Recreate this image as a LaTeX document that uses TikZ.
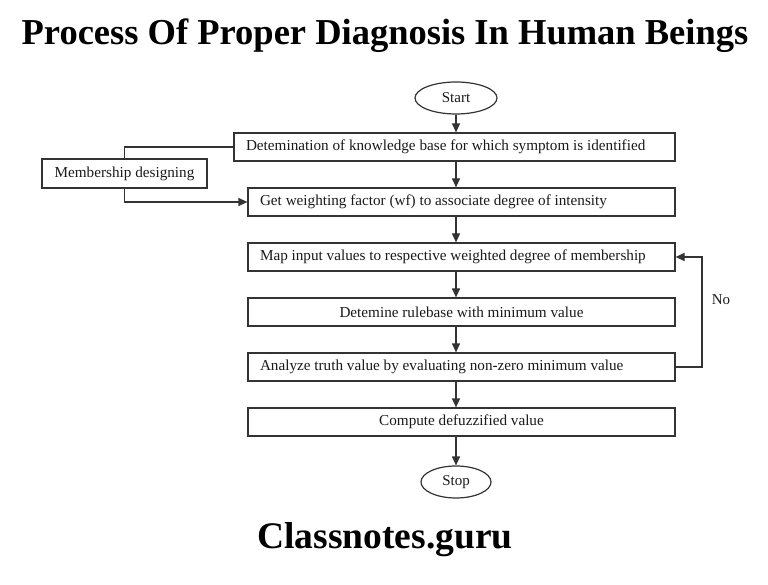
\documentclass[tikz,border=0pt]{standalone}
\usepackage{fontspec}
\setmainfont{Liberation Serif}
\usetikzlibrary{arrows.meta,positioning,shapes.geometric}
\definecolor{InkDark}{HTML}{1A1A1A}
\definecolor{LineGray}{HTML}{333333}
\tikzset{
  procbox/.style={rectangle, draw=LineGray, line width=1.2pt, fill=white,
             minimum height=28pt, inner sep=2pt, text=InkDark,
             font=\fontsize{15.2}{17}\selectfont},
  leftbox/.style={procbox, inner xsep=12pt, text width=#1, align=flush left},
  termnode/.style={ellipse, draw=LineGray, line width=1.2pt, fill=white,
             inner sep=0pt, text=InkDark, font=\fontsize{15}{17}\selectfont},
  flow/.style={-{Triangle[length=9pt,width=8pt]}, line width=1.2pt, draw=LineGray},
  link/.style={line width=1.2pt, draw=LineGray},
  bigtitle/.style={font=\fontsize{36.5}{42}\selectfont\bfseries, text=black},
}
\begin{document}
\begin{tikzpicture}[x=1pt, y=-1pt]
\useasboundingbox (0,0) rectangle (768,585);
% ===================== titles
\node[bigtitle] (title) at (385,36) {Process Of Proper Diagnosis In Human Beings};
\node[bigtitle, font=\fontsize{37.5}{42}\selectfont\bfseries] (footer) at (385,540) {Classnotes.guru};
% ===================== main column
\node[termnode, minimum width=82pt, minimum height=32pt] (start) at (456,98) {Start};
\node[leftbox=417pt] (detkb) at (454.5,147) {Detemination of knowledge base for which symptom is identified};
\node[leftbox=403pt] (getwf) at (461.5,202) {Get weighting factor (wf) to associate degree of intensity};
\node[leftbox=403pt] (mapin) at (461.5,257) {Map input values to respective weighted degree of membership};
\node[procbox, minimum width=427pt] (rulebase) at (461.5,312) {Detemine rulebase with minimum value};
\node[leftbox=403pt] (truth) at (461.5,367) {Analyze truth value by evaluating non-zero minimum value};
\node[procbox, minimum width=427pt] (defuzz) at (461.5,422) {Compute defuzzified value};
\node[termnode, minimum width=70pt, minimum height=32pt] (stop) at (456,482) {Stop};
% side box
\node[procbox, minimum width=165pt, minimum height=29pt] (member) at (124.5,173.5) {Membership designing};
% ===================== connectors
\draw[flow] (start.south) -- (start.south |- detkb.north);
\draw[flow] (start.south |- detkb.south) -- (start.south |- getwf.north);
\draw[flow] (start.south |- getwf.south) -- (start.south |- mapin.north);
\draw[flow] (start.south |- mapin.south) -- (start.south |- rulebase.north);
\draw[flow] (start.south |- rulebase.south) -- (start.south |- truth.north);
\draw[flow] (start.south |- truth.south) -- (start.south |- defuzz.north);
\draw[flow] (start.south |- defuzz.south) -- (stop.north);
\draw[link] (detkb.west) -| (member.north);
\draw[flow] (member.south) |- (getwf.west);
% loop back
\coordinate (loopx) at (702,0);
\draw[flow] (truth.east) -| (loopx |- rulebase.north) |- (mapin.east);
\node[text=InkDark, font=\fontsize{15}{17}\selectfont] (nolabel) at (721,300) {No};
\end{tikzpicture}
\end{document}
